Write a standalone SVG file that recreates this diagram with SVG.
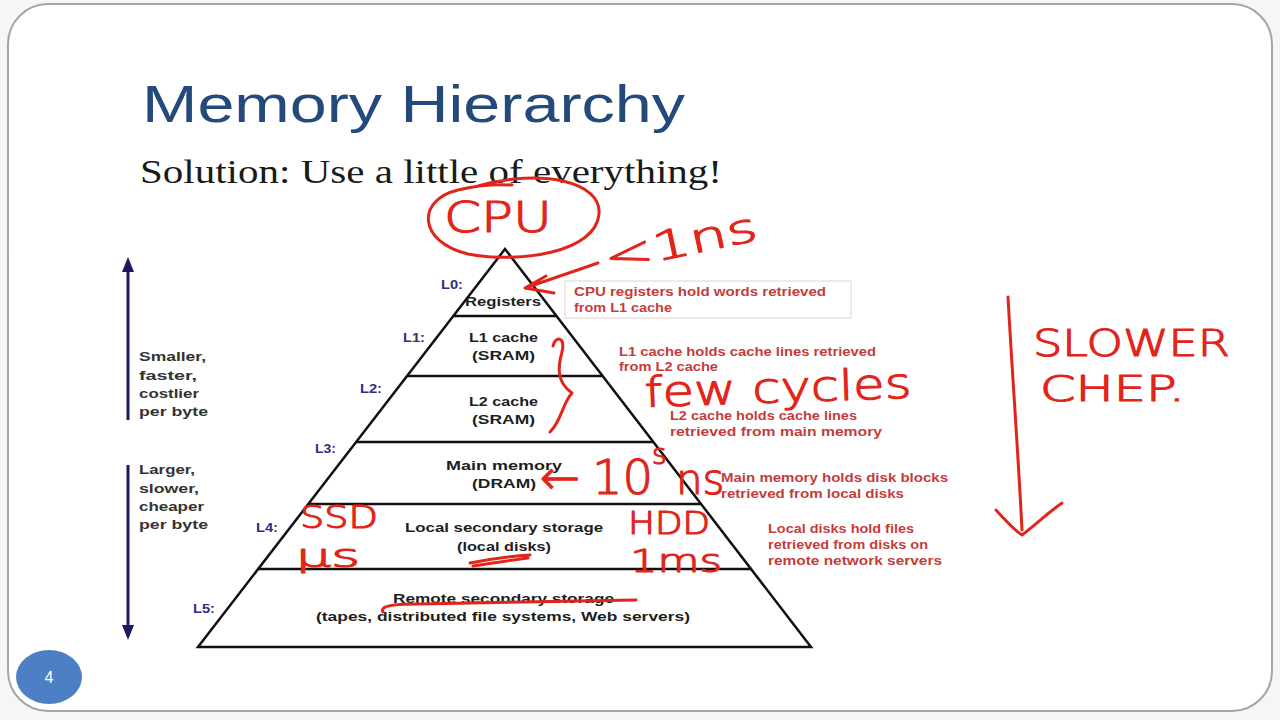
<svg xmlns="http://www.w3.org/2000/svg" width="1280" height="720" viewBox="0 0 1280 720">
<defs>
<style>
.slide{fill:#ffffff;stroke:#a6a6a6;stroke-width:2}
.title{font-family:"Liberation Sans",Arial,sans-serif;font-size:52px;fill:#244a7c}
.sub{font-family:"Liberation Serif","Times New Roman",serif;font-size:34px;fill:#1a1a1a}
.lvl{font-family:"Liberation Sans",Arial,sans-serif;font-size:12px;font-weight:bold;fill:#2e2f86}
.pt{font-family:"Liberation Sans",Arial,sans-serif;font-size:13px;font-weight:bold;fill:#1e1e1e}
.side{font-family:"Liberation Sans",Arial,sans-serif;font-size:13px;font-weight:bold;fill:#333333}
.note{font-family:"Liberation Sans",Arial,sans-serif;font-size:12px;font-weight:bold;fill:#c53c3c}
.hand{font-family:"DejaVu Sans",sans-serif;font-weight:200;fill:#e1251b;stroke:#e1251b;stroke-width:1.2;stroke-linejoin:round}
.ink{fill:none;stroke:#e1251b;stroke-width:3;stroke-linecap:round;stroke-linejoin:round}
.pyr{fill:none;stroke:#111111;stroke-width:2.5}
.nav{stroke:#1c1a5e;stroke-width:3}
</style>
</defs>
<rect x="0" y="0" width="1280" height="720" fill="#f6f6f6"/>
<rect class="slide" x="8" y="4" width="1264" height="707" rx="40" ry="40"/>

<g id="title">
<text class="title" x="142" y="122" textLength="543" lengthAdjust="spacingAndGlyphs">Memory Hierarchy</text>
<text class="sub" x="140" y="183" textLength="582" lengthAdjust="spacingAndGlyphs">Solution: Use a little of everything!</text>
</g>

<g id="pyramid">
<path class="pyr" d="M505 249 L198 647 L811 647 Z"/>
<line class="pyr" x1="453" y1="316" x2="557" y2="316"/>
<line class="pyr" x1="407" y1="376" x2="603" y2="376"/>
<line class="pyr" x1="356" y1="442" x2="654" y2="442"/>
<line class="pyr" x1="308" y1="504" x2="701" y2="504"/>
<line class="pyr" x1="258" y1="569" x2="752" y2="569"/>
</g>

<g id="level-labels">
<text class="lvl" x="441" y="289" textLength="22" lengthAdjust="spacingAndGlyphs">L0:</text>
<text class="lvl" x="403" y="342" textLength="22" lengthAdjust="spacingAndGlyphs">L1:</text>
<text class="lvl" x="360" y="393" textLength="22" lengthAdjust="spacingAndGlyphs">L2:</text>
<text class="lvl" x="315" y="453" textLength="21" lengthAdjust="spacingAndGlyphs">L3:</text>
<text class="lvl" x="256" y="532" textLength="22" lengthAdjust="spacingAndGlyphs">L4:</text>
<text class="lvl" x="193" y="613" textLength="22" lengthAdjust="spacingAndGlyphs">L5:</text>
</g>

<g id="node-l0">
<text class="pt" x="465" y="306" textLength="76" lengthAdjust="spacingAndGlyphs">Registers</text>
</g>
<g id="node-l1">
<text class="pt" x="469" y="342" textLength="69" lengthAdjust="spacingAndGlyphs">L1 cache</text>
<text class="pt" x="472" y="360" textLength="63" lengthAdjust="spacingAndGlyphs">(SRAM)</text>
</g>
<g id="node-l2">
<text class="pt" x="469" y="406" textLength="69" lengthAdjust="spacingAndGlyphs">L2 cache</text>
<text class="pt" x="472" y="424" textLength="63" lengthAdjust="spacingAndGlyphs">(SRAM)</text>
</g>
<g id="node-l3">
<text class="pt" x="446" y="470" textLength="116" lengthAdjust="spacingAndGlyphs">Main memory</text>
<text class="pt" x="472" y="488" textLength="64" lengthAdjust="spacingAndGlyphs">(DRAM)</text>
</g>
<g id="node-l4">
<text class="pt" x="405" y="532" textLength="198" lengthAdjust="spacingAndGlyphs">Local secondary storage</text>
<text class="pt" x="457" y="551" textLength="94" lengthAdjust="spacingAndGlyphs">(local disks)</text>
</g>
<g id="node-l5">
<text class="pt" x="393" y="603" textLength="221" lengthAdjust="spacingAndGlyphs">Remote secondary storage</text>
<text class="pt" x="316" y="621" textLength="374" lengthAdjust="spacingAndGlyphs">(tapes, distributed file systems, Web servers)</text>
</g>

<g id="side-arrows">
<line class="nav" x1="128" y1="268" x2="128" y2="420"/>
<path d="M128 257 L122 272 L134 272 Z" fill="#1c1a5e"/>
<line class="nav" x1="128" y1="465" x2="128" y2="628"/>
<path d="M128 640 L122 625 L134 625 Z" fill="#1c1a5e"/>
<text class="side" x="139" y="361" textLength="67" lengthAdjust="spacingAndGlyphs">Smaller,</text>
<text class="side" x="139" y="380" textLength="58" lengthAdjust="spacingAndGlyphs">faster,</text>
<text class="side" x="139" y="398" textLength="60" lengthAdjust="spacingAndGlyphs">costlier</text>
<text class="side" x="139" y="416" textLength="69" lengthAdjust="spacingAndGlyphs">per byte</text>
<text class="side" x="139" y="474" textLength="56" lengthAdjust="spacingAndGlyphs">Larger,</text>
<text class="side" x="139" y="493" textLength="60" lengthAdjust="spacingAndGlyphs">slower,</text>
<text class="side" x="139" y="511" textLength="65" lengthAdjust="spacingAndGlyphs">cheaper</text>
<text class="side" x="139" y="529" textLength="69" lengthAdjust="spacingAndGlyphs">per byte</text>
</g>

<g id="notes">
<rect x="565" y="281" width="286" height="37" fill="none" stroke="#ead0d0" stroke-width="1"/>
<text class="note" x="574" y="296" textLength="252" lengthAdjust="spacingAndGlyphs">CPU registers hold words retrieved</text>
<text class="note" x="574" y="312" textLength="98" lengthAdjust="spacingAndGlyphs">from L1 cache</text>
<text class="note" x="619" y="356" textLength="257" lengthAdjust="spacingAndGlyphs">L1 cache holds cache lines retrieved</text>
<text class="note" x="619" y="371" textLength="99" lengthAdjust="spacingAndGlyphs">from L2 cache</text>
<text class="note" x="670" y="420" textLength="187" lengthAdjust="spacingAndGlyphs">L2 cache holds cache lines</text>
<text class="note" x="670" y="436" textLength="212" lengthAdjust="spacingAndGlyphs">retrieved from main memory</text>
<text class="note" x="721" y="482" textLength="227" lengthAdjust="spacingAndGlyphs">Main memory holds disk blocks</text>
<text class="note" x="721" y="498" textLength="183" lengthAdjust="spacingAndGlyphs">retrieved from local disks</text>
<text class="note" x="768" y="533" textLength="146" lengthAdjust="spacingAndGlyphs">Local disks hold files</text>
<text class="note" x="768" y="549" textLength="160" lengthAdjust="spacingAndGlyphs">retrieved from disks on</text>
<text class="note" x="768" y="565" textLength="174" lengthAdjust="spacingAndGlyphs">remote network servers</text>
</g>

<g id="handwriting">
<path class="ink" d="M478 186 C542 168 602 182 599 214 C596 252 520 264 468 254 C418 242 416 200 458 190 C474 186 494 184 512 185"/>
<text class="hand" x="444" y="232" font-size="42" textLength="108" lengthAdjust="spacingAndGlyphs">CPU</text>
<path class="ink" d="M598 263 L525 288 M546 276 L525 288 L554 293"/>
<text class="hand" x="607" y="272" font-size="40" textLength="156" lengthAdjust="spacingAndGlyphs" transform="rotate(-12 607 272)">&lt;1ns</text>
<path class="ink" d="M553 346 C555 336 566 336 562 352 C558 366 556 382 572 393 C562 404 562 420 550 432"/>
<text class="hand" x="645" y="407" font-size="42" textLength="267" lengthAdjust="spacingAndGlyphs" transform="rotate(-2 645 407)">few cycles</text>
<text class="hand" x="540" y="494" font-size="48">←<tspan x="592">10</tspan><tspan x="652" font-size="28" dy="-30">s</tspan><tspan x="676" dy="30" font-size="42">ns</tspan></text>
<text class="hand" x="300" y="528" font-size="32" textLength="78" lengthAdjust="spacingAndGlyphs">SSD</text>
<text class="hand" x="296" y="567" font-size="32" textLength="64" lengthAdjust="spacingAndGlyphs">µs</text>
<text class="hand" x="628" y="534" font-size="32" textLength="82" lengthAdjust="spacingAndGlyphs">HDD</text>
<text class="hand" x="630" y="572" font-size="32" textLength="92" lengthAdjust="spacingAndGlyphs">1ms</text>
<path class="ink" d="M470 563 C490 559 512 556 530 555 M473 566 C492 563 512 560 528 558"/>
<path class="ink" d="M383 612 C379 605 398 604 420 604 L636 600"/>
<path class="ink" d="M1008 297 C1012 370 1018 450 1022 530 M996 510 C1005 520 1014 530 1022 535 C1035 525 1049 512 1062 503"/>
<text class="hand" x="1033" y="356" font-size="38" textLength="197" lengthAdjust="spacingAndGlyphs">SLOWER</text>
<text class="hand" x="1040" y="401" font-size="36" textLength="145" lengthAdjust="spacingAndGlyphs">CHEP.</text>
</g>

<g id="slide-number">
<ellipse cx="49" cy="677" rx="33" ry="27" fill="#4d7fc4"/>
<text x="49" y="683" font-family="Liberation Sans, Arial, sans-serif" font-size="16" fill="#ffffff" text-anchor="middle">4</text>
</g>
</svg>
